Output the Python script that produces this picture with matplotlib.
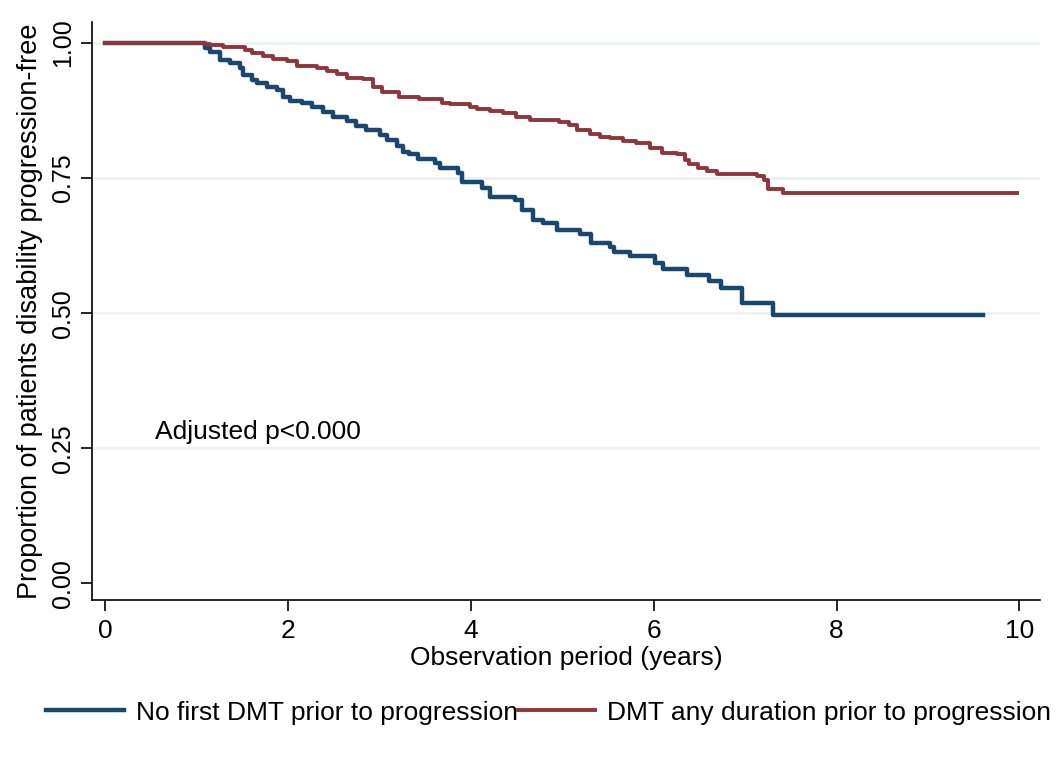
import matplotlib
matplotlib.use("Agg")
import matplotlib.pyplot as plt

# Kaplan-Meier step points (time in years, survival)
t_none = [0.0, 1.09, 1.15, 1.26, 1.37, 1.48, 1.51, 1.61, 1.66, 1.77, 1.88, 1.95,
          2.02, 2.16, 2.27, 2.38, 2.49, 2.65, 2.75, 2.86, 3.01, 3.08, 3.19, 3.26,
          3.33, 3.42, 3.61, 3.66, 3.86, 3.91, 4.12, 4.21, 4.48, 4.56, 4.68, 4.79,
          4.94, 5.19, 5.32, 5.52, 5.57, 5.74, 6.01, 6.10, 6.36, 6.61, 6.74, 6.97,
          7.31, 9.60]
s_none = [1.0, 0.990, 0.983, 0.969, 0.963, 0.954, 0.941, 0.931, 0.926, 0.919, 0.913, 0.900,
          0.893, 0.889, 0.881, 0.872, 0.863, 0.856, 0.846, 0.839, 0.830, 0.820, 0.809, 0.798,
          0.794, 0.785, 0.778, 0.769, 0.759, 0.743, 0.731, 0.715, 0.709, 0.691, 0.672, 0.667,
          0.654, 0.646, 0.630, 0.622, 0.613, 0.606, 0.593, 0.581, 0.570, 0.559, 0.546, 0.519,
          0.496, 0.496]

t_dmt = [0.0, 1.09, 1.15, 1.29, 1.53, 1.61, 1.73, 1.84, 1.99, 2.10, 2.32, 2.43, 2.54,
         2.65, 2.82, 2.93, 3.03, 3.22, 3.44, 3.69, 3.77, 3.99, 4.07, 4.21, 4.35, 4.50,
         4.65, 4.97, 5.08, 5.16, 5.30, 5.41, 5.52, 5.66, 5.81, 5.96, 6.09, 6.25, 6.34,
         6.39, 6.48, 6.58, 6.69, 7.13, 7.21, 7.25, 7.41, 9.97]
s_dmt = [1.0, 0.999, 0.997, 0.993, 0.987, 0.981, 0.976, 0.970, 0.967, 0.957, 0.954, 0.948, 0.943,
         0.935, 0.933, 0.919, 0.909, 0.900, 0.896, 0.889, 0.887, 0.881, 0.878, 0.874, 0.870, 0.863,
         0.857, 0.854, 0.848, 0.839, 0.831, 0.826, 0.824, 0.819, 0.815, 0.806, 0.796, 0.794, 0.783,
         0.776, 0.769, 0.763, 0.757, 0.754, 0.746, 0.730, 0.722, 0.722]

labels = ["No first DMT prior to progression", "DMT any duration prior to progression"]
x_ticks = [0, 2, 4, 6, 8, 10]
y_ticks = [0.0, 0.25, 0.5, 0.75, 1.0]

plt.rcParams['font.family'] = ['Liberation Sans', 'DejaVu Sans']

fig = plt.figure(figsize=(10.63, 7.73), dpi=100)
ax = fig.add_axes([0.0866, 0.2238, 0.8914, 0.7477])

ax.step(t_none, s_none, where='post', color='#1a476f', lw=3.2, label=labels[0])
ax.step(t_dmt, s_dmt, where='post', color='#90353b', lw=2.8, label=labels[1])

ax.set_xlim(-0.14, 10.22)
ax.set_ylim(-0.031, 1.039)
ax.set_xticks(x_ticks)
ax.set_yticks(y_ticks)
ax.set_yticklabels([f"{v:.2f}" for v in y_ticks], rotation=90, va='center', fontsize=18)
ax.set_xticklabels([str(v) for v in x_ticks], fontsize=19)
ax.tick_params(direction='out', length=8, width=1.2, color='black')
ax.tick_params(axis='x', pad=6)
ax.tick_params(axis='y', pad=4)

for s in ['top', 'right']:
    ax.spines[s].set_visible(False)
for s in ['left', 'bottom']:
    ax.spines[s].set_linewidth(1.2)

for v in y_ticks[1:]:
    ax.axhline(v, color='#eaf2f3', lw=2, zorder=0)

ax.set_ylabel("Proportion of patients disability progression-free", fontsize=19.5, labelpad=6)
ax.set_xlabel("Observation period (years)", fontsize=19, labelpad=2)

ax.text(0.55, 0.28, "Adjusted p<0.000", fontsize=19, va='center')

fig.legend(loc='center', bbox_to_anchor=(0.516, 0.078), ncol=2, frameon=False,
           prop={'size': 19}, handlelength=2.95,
           handletextpad=0.45, columnspacing=0.0)

fig.savefig("out.png", dpi=100, facecolor='white')
